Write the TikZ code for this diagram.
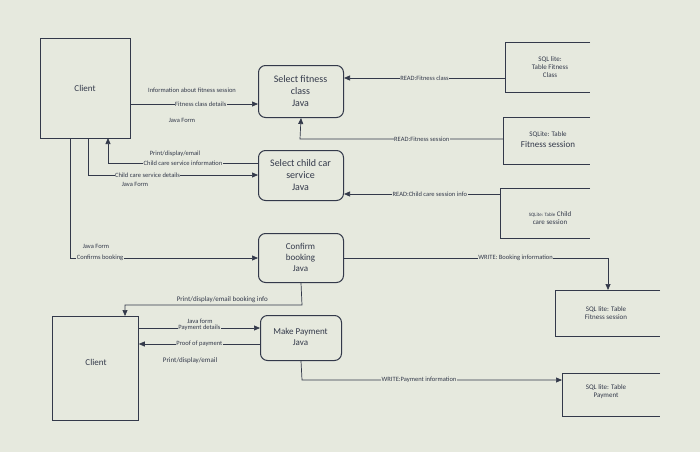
\documentclass[tikz,border=0pt]{standalone}
\usepackage{fontspec}
\setmainfont{Carlito}
\usetikzlibrary{arrows.meta}
\definecolor{bg}{HTML}{E6E9DE}
\definecolor{ink}{HTML}{33394A}
\begin{document}
\begin{tikzpicture}[x=1pt,y=-1pt,
  proc/.style={draw=ink,line width=1pt,rounded corners=7pt,align=center,inner sep=0pt,font=\small,text=ink},
  ent/.style={draw=ink,line width=0.8pt,inner sep=0pt},
  flow/.style={draw=ink,line width=0.7pt,-{Triangle[length=6pt,width=5pt]}},
  plain/.style={draw=ink,line width=0.7pt},
  lab/.style={fill=bg,inner sep=0.5pt,font=\fontsize{6.5}{7}\selectfont,text=ink},
  free/.style={inner sep=0.5pt,font=\fontsize{6.5}{7}\selectfont,text=ink}]
\fill[bg] (0,0) rectangle (700,452);
\useasboundingbox (0,0) rectangle (700,452);
% clients
\node[ent,minimum width=90,minimum height=100,anchor=north west] (c1) at (40,38) {};
\node[free,font=\small] (c1t) at (85,88) {Client};
\node[ent,minimum width=86,minimum height=104,anchor=north west] (c2) at (52,316) {};
\node[free,font=\small] (c2t) at (96,362) {Client};
% processes
\node[proc,minimum width=85,minimum height=52,anchor=north west] (sf) at (258,65) {};
\node[free,font=\normalsize,align=center] (sft) at (300.5,91) {Select fitness\\class\\Java};
\node[proc,minimum width=85,minimum height=50,anchor=north west] (sc) at (258,150) {};
\node[free,font=\normalsize,align=center] (sct) at (300.5,175) {Select child car\\service\\Java};
\node[proc,minimum width=85,minimum height=49,anchor=north west] (cb) at (258,233) {};
\node[free,font=\small,align=center] (cbt) at (300.5,257) {Confirm\\booking\\Java};
\node[proc,minimum width=81,minimum height=45,anchor=north west] (mp) at (260,315) {};
\node[free,font=\small,align=center] (mpt) at (300.5,337) {Make Payment\\Java};
% data stores (open rectangles)
\draw[plain,line width=0.8pt] (590,42)--(505,42)--(505,92)--(590,92);
\node[free,font=\scriptsize,align=center] (d1t) at (550,67) {SQL lite:\\Table Fitness\\Class};
\draw[plain,line width=0.8pt] (590,117)--(503,117)--(503,164)--(590,164);
\node[free,font=\small,align=center] (d2t) at (548,140) {{\scriptsize SQLite: Table}\\Fitness session};
\draw[plain,line width=0.8pt] (590,188)--(500,188)--(500,238)--(590,238);
\node[free,font=\scriptsize,align=center] (d3t) at (550,218) {{\tiny SQLite: Table} Child\\care session};
\draw[plain,line width=0.8pt] (660,290)--(555,290)--(555,336)--(660,336);
\node[free,font=\scriptsize,align=center] (d4t) at (606,313) {SQL lite: Table\\Fitness session};
\draw[plain,line width=0.8pt] (660,373)--(562,373)--(562,416)--(660,416);
\node[free,font=\scriptsize,align=center] (d5t) at (606,392) {SQL lite: Table\\Payment};
% flows
\draw[flow] (c1.east|-0,104) -- node[lab,pos=0.55]{Fitness class details} (sf.west|-0,104);
\node[free] (l1) at (192,90) {Information about fitness session};
\node[free] (l2) at (182,120) {Java Form};
\draw[flow] (505,78) -- node[lab]{READ:Fitness class} (sf.east|-0,78);
\draw[flow] (503,139) -- node[lab,pos=0.4]{READ:Fitness session} (300,139) -- (sf.south);
\draw[flow] (500,194) -- node[lab,pos=0.45]{READ:Child care session info} (sc.east|-0,194);
\draw[flow] (sc.west|-0,163) -- node[lab,pos=0.5]{Child care service information} (108,163) -- (108,138);
\node[free] (l3) at (175,154) {Print/display/email};
\draw[flow] (88,138) -- (88,175) -- node[lab,pos=0.35]{Child care service details} (sc.west|-0,175);
\node[free] (l4) at (135,184) {Java Form};
\draw[flow] (70,138) -- (70,258) -- node[lab,pos=0.16]{Confirms booking} (cb.west|-0,258);
\node[free] (l5) at (96,246) {Java Form};
\draw[flow] (cb.east|-0,258) -- node[lab,pos=0.65]{WRITE: Booking information} (608,258) -- (608,290);
\draw[flow] (cb.south) -- (302,305) -- node[free,above=1pt,font=\scriptsize,pos=0.45]{Print/display/email booking info} (125,305) -- (125,316);
\draw[flow] (c2.east|-0,328) -- node[lab]{Payment details} (mp.west|-0,328);
\node[free] (l6) at (200,321) {Java form};
\draw[flow] (mp.west|-0,344) -- node[lab]{Proof of payment} (c2.east|-0,344);
\node[free,font=\scriptsize] (l7) at (190,361) {Print/display/email};
\draw[flow] (mp.south) -- (302,380) -- node[lab,pos=0.45]{WRITE:Payment information} (562,380);
\end{tikzpicture}
\end{document}
